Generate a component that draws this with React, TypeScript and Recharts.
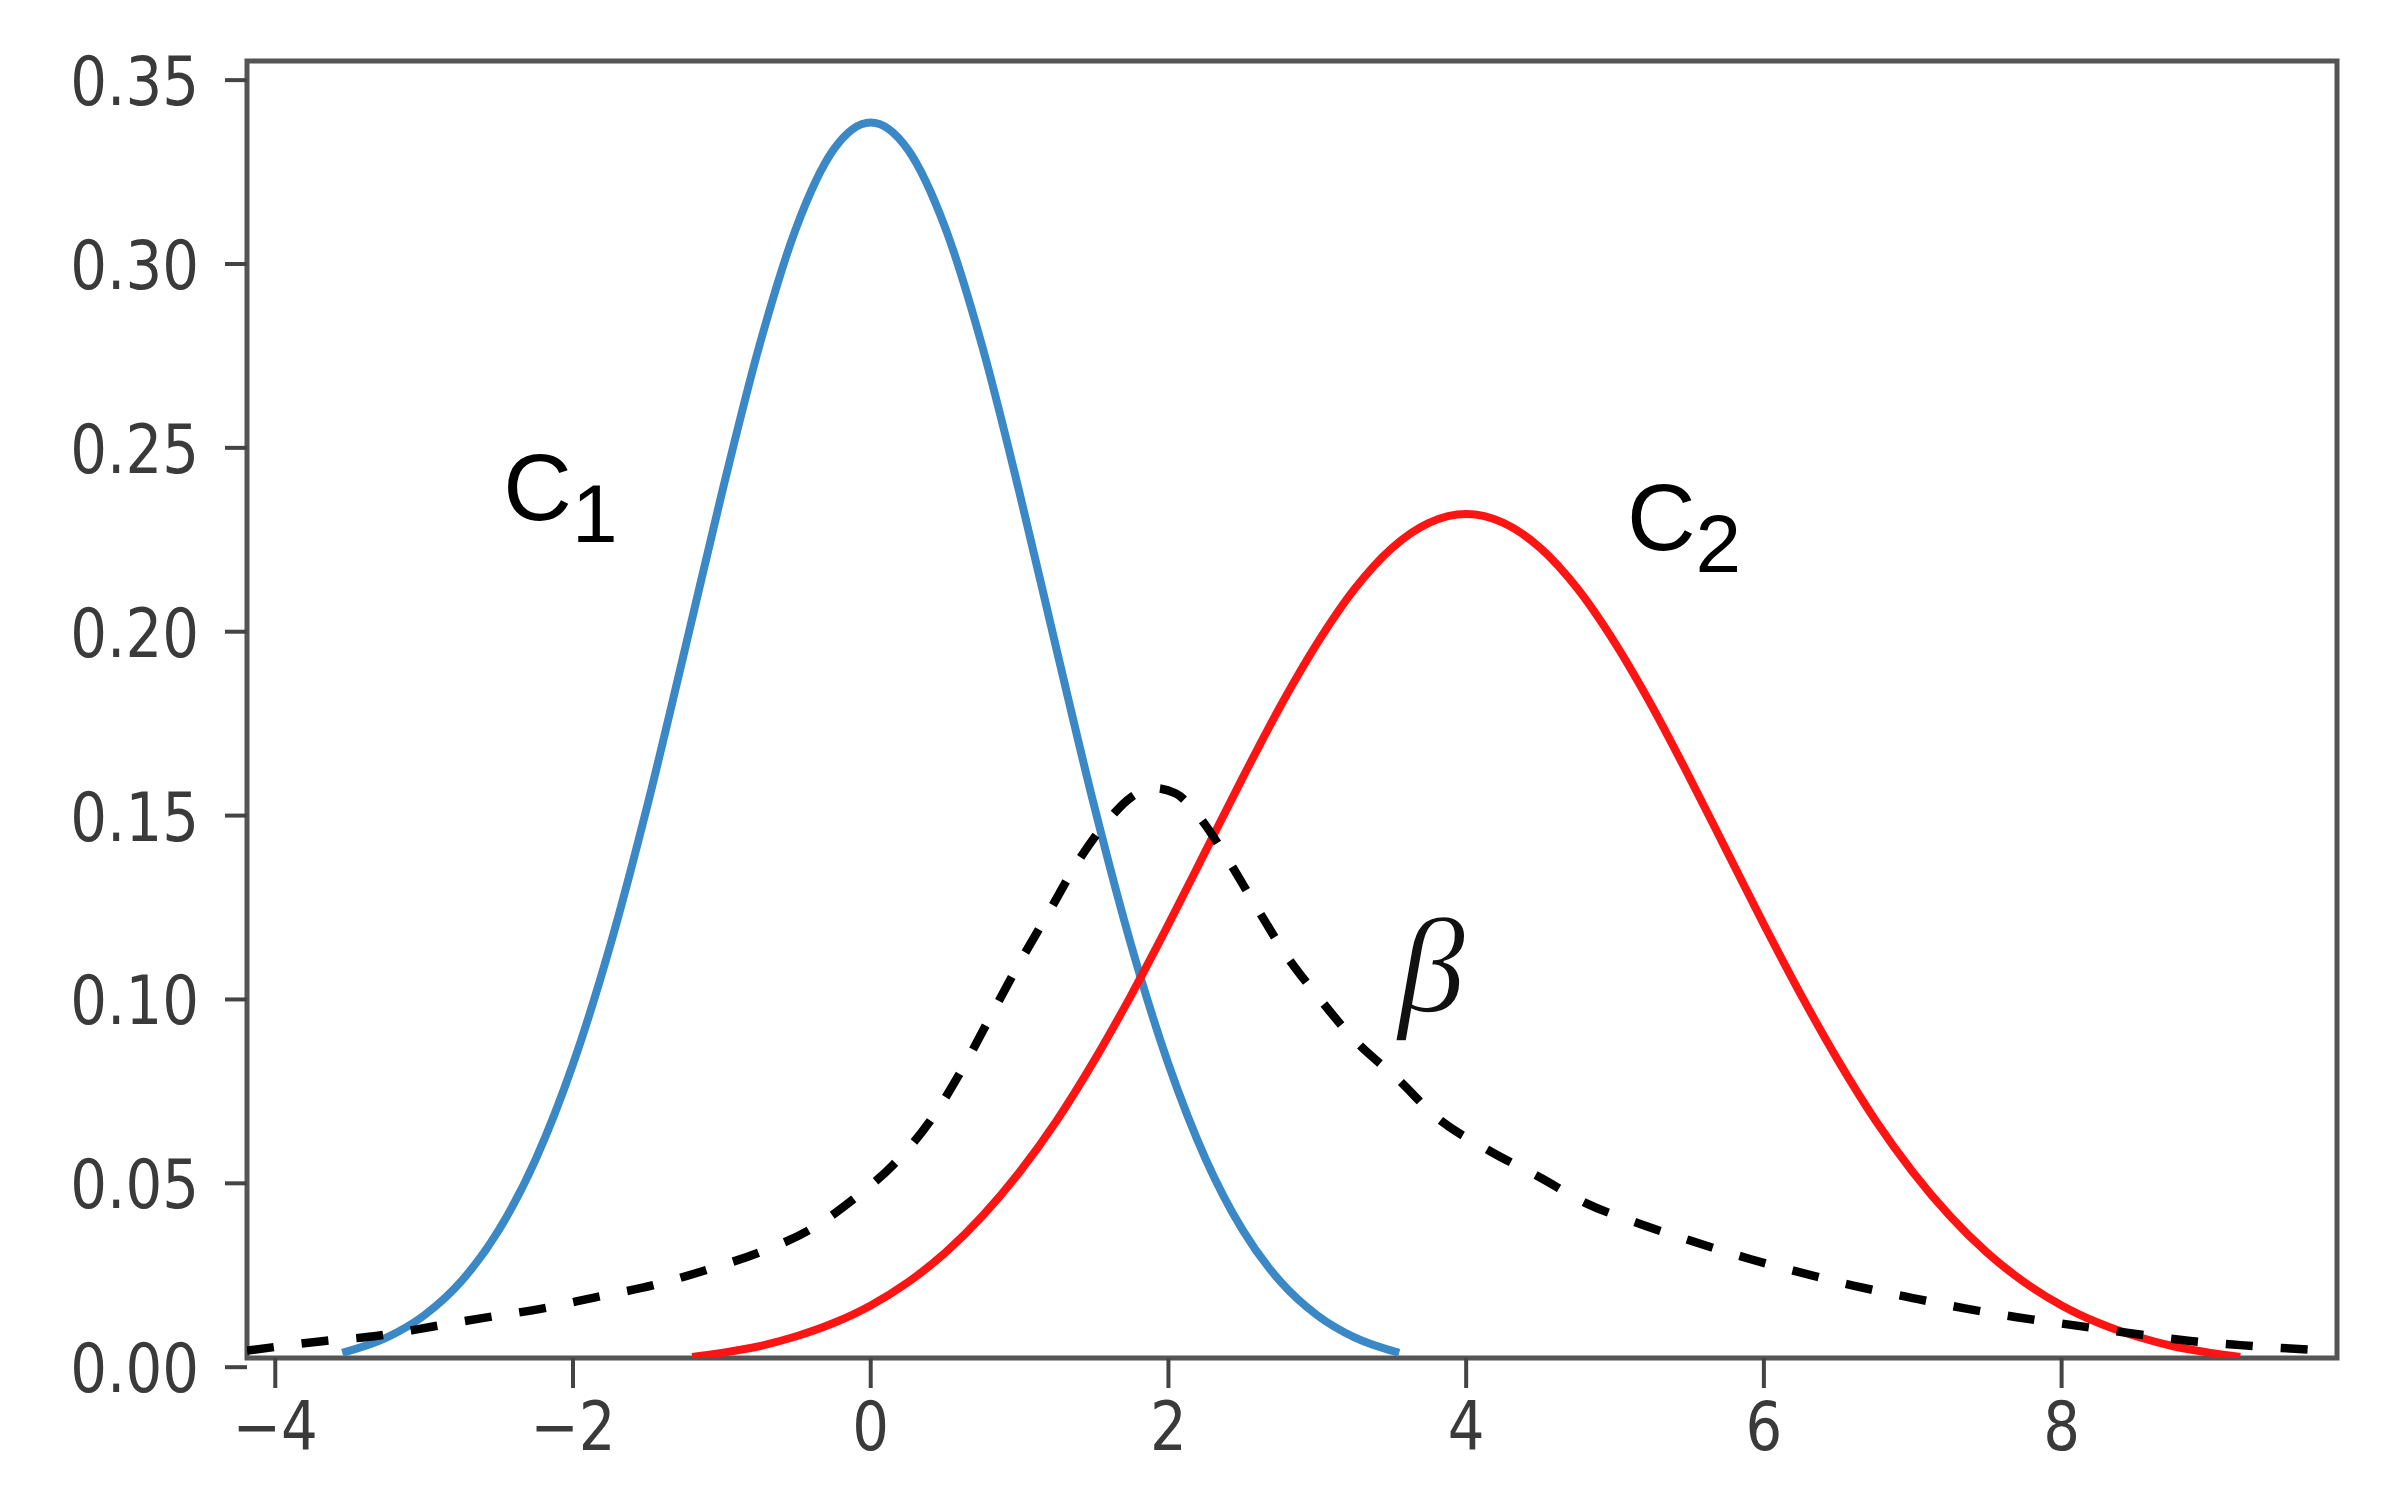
import React from 'react';
import { LineChart, Line, XAxis, YAxis, ReferenceArea, ReferenceDot } from 'recharts';

// ---- C1 (blue) ----
const c1X = [-3.55, -3.25, -3.0, -2.75, -2.5, -2.25, -2.0, -1.75, -1.5, -1.25, -1.0, -0.75, -0.5, -0.25, 0,
  0.25, 0.5, 0.75, 1.0, 1.25, 1.5, 1.75, 2.0, 2.25, 2.5, 2.75, 3.0, 3.25, 3.55];
const c1Y = [0.0039, 0.0081, 0.0141, 0.0234, 0.0372, 0.0566, 0.0824, 0.1147, 0.1528, 0.1949, 0.2377, 0.2775, 0.3099, 0.3311, 0.3385,
  0.3311, 0.3099, 0.2775, 0.2377, 0.1949, 0.1528, 0.1147, 0.0824, 0.0566, 0.0372, 0.0234, 0.0141, 0.0081, 0.0039];

// ---- C2 (red) ----
const c2X = [-1.2, -1.0, -0.75, -0.5, -0.25, 0, 0.25, 0.5, 0.75, 1.0, 1.25, 1.5, 1.75, 2.0, 2.25, 2.5, 2.75, 3.0, 3.25, 3.5, 3.75, 4.0,
  4.25, 4.5, 4.75, 5.0, 5.25, 5.5, 5.75, 6.0, 6.25, 6.5, 6.75, 7.0, 7.25, 7.5, 7.75, 8.0, 8.25, 8.5, 8.75, 9.0, 9.2];
const c2Y = [0.0028, 0.0039, 0.0057, 0.0084, 0.0120, 0.0168, 0.0231, 0.0311, 0.0411, 0.0531, 0.0671, 0.0833, 0.1012, 0.1204, 0.1404, 0.1604, 0.1796, 0.1969, 0.2116, 0.2227, 0.2296, 0.2320,
  0.2296, 0.2227, 0.2116, 0.1969, 0.1796, 0.1604, 0.1404, 0.1204, 0.1012, 0.0833, 0.0671, 0.0531, 0.0411, 0.0311, 0.0231, 0.0168, 0.0120, 0.0084, 0.0057, 0.0039, 0.0028];

// ---- beta (dashed) ----
const betaX = [-4.19, -3.7, -3.3, -2.95, -2.6, -2.2, -1.85, -1.45, -1.1, -0.75, -0.4, -0.1, 0.15, 0.4, 0.6, 0.8, 1.0, 1.2, 1.4, 1.6,
  1.75, 1.9, 2.05, 2.2, 2.4, 2.6, 2.8, 3.0, 3.25, 3.55, 3.8, 4.15, 4.5, 4.8, 5.15, 5.5, 5.9, 6.25, 6.6, 7.0, 7.35, 7.7, 8.1, 8.45, 8.85, 9.2, 9.7];
const betaY = [0.0045, 0.0070, 0.0086, 0.0110, 0.0134, 0.0160, 0.0190, 0.0224, 0.0265, 0.0312, 0.0376, 0.0462, 0.0550, 0.0670, 0.0800, 0.0950, 0.1100, 0.1240, 0.1380, 0.1490,
  0.1550, 0.1575, 0.1560, 0.1500, 0.1380, 0.1245, 0.1115, 0.1010, 0.0890, 0.0780, 0.0680, 0.0590, 0.0515, 0.0447, 0.0392, 0.0345, 0.0295, 0.0257, 0.0222, 0.0188, 0.0160, 0.0136, 0.0113, 0.0093, 0.0072, 0.0060, 0.0047];

// ---- axes ----
const xTicks = [-4, -2, 0, 2, 4, 6, 8];
const yTicks = [0, 0.05, 0.1, 0.15, 0.2, 0.25, 0.3, 0.35];
const xDomain = [-4.19, 9.85];
const yDomain = [0.0025, 0.3552];

// ---- annotations ----
const labelNames = ['C', 'C', '\u03B2'];
const labelSubs = ['1', '2', ''];
const labelX = [-2.468, 5.08, 3.54];
const labelY = [0.2303, 0.2221, 0.0967];

const c1Data = c1X.map((x, i) => ({ x, y: c1Y[i] }));
const c2Data = c2X.map((x, i) => ({ x, y: c2Y[i] }));
const betaData = betaX.map((x, i) => ({ x, y: betaY[i] }));

const TICK_COLOR = '#3a3a3a';

const YTick = (props: any) => {
  const { x, y, payload } = props;
  return (
    <g transform={`translate(${x},${y})`}>
      <text x={0} y={0} dy={25} textAnchor="end" fontFamily="DejaVu Sans" fontSize={68} fill={TICK_COLOR}
        transform="scale(0.85,1)">
        {Number(payload.value).toFixed(2)}
      </text>
    </g>
  );
};

const XTick = (props: any) => {
  const { x, y, payload } = props;
  const v = Number(payload.value);
  const s = v < 0 ? '\u2212' + Math.abs(v) : String(v);
  return (
    <g transform={`translate(${x},${y})`}>
      <text x={0} y={0} dy={50} textAnchor="middle" fontFamily="DejaVu Sans" fontSize={68} fill={TICK_COLOR}
        transform="scale(0.85,1)">
        {s}
      </text>
    </g>
  );
};

const makeLabel = (i: number) => (props: any) => {
  const { cx, cy } = props;
  if (labelSubs[i]) {
    return (
      <text x={cx} y={cy} fontFamily="Liberation Sans, Arial, sans-serif" fontSize={95} fill="#000">
        {labelNames[i]}
        <tspan fontSize={82} dy={22}>{labelSubs[i]}</tspan>
      </text>
    );
  }
  return (
    <text x={cx} y={cy} fontFamily="Liberation Serif, serif" fontStyle="italic" fontSize={135} fill="#111"
      stroke="#fff" strokeWidth={1.5} style={{ paintOrder: 'normal' }}>
      {labelNames[i]}
    </text>
  );
};

export default function App() {
  return (
    <div style={{ position: 'absolute', left: 0, top: 0, width: 2383, height: 1500, background: '#fff' }}>
      <LineChart width={2383} height={1500} margin={{ top: 61, right: 46, bottom: 42, left: 0 }}>
        <XAxis
          type="number"
          dataKey="x"
          domain={xDomain}
          allowDataOverflow
          ticks={xTicks}
          interval={0}
          height={100}
          tickSize={30}
          tickMargin={12}
          axisLine={false}
          tickLine={{ stroke: '#444', strokeWidth: 4 }}
          tick={<XTick />}
        />
        <YAxis
          type="number"
          dataKey="y"
          domain={yDomain}
          allowDataOverflow
          ticks={yTicks}
          interval={0}
          width={247}
          tickSize={22}
          tickMargin={26}
          axisLine={false}
          tickLine={{ stroke: '#444', strokeWidth: 4 }}
          tick={<YTick />}
        />
        <Line data={c1Data} dataKey="y" type="monotone" stroke="#3a88c5" strokeWidth={8} dot={false} isAnimationActive={false} />
        <Line data={c2Data} dataKey="y" type="monotone" stroke="#ff1414" strokeWidth={8} dot={false} isAnimationActive={false} />
        <Line data={betaData} dataKey="y" type="monotone" stroke="#000" strokeWidth={8.5} strokeDasharray="27 28" dot={false} isAnimationActive={false} />
        <ReferenceArea x1={xDomain[0]} x2={xDomain[1]} y1={yDomain[0]} y2={yDomain[1]} fill="none" fillOpacity={0}
          stroke="#555" strokeWidth={5} ifOverflow="visible" />
        {labelX.map((lx, i) => (
          <ReferenceDot key={i} x={lx} y={labelY[i]} r={0} ifOverflow="visible" shape={makeLabel(i)} />
        ))}
      </LineChart>
    </div>
  );
}
